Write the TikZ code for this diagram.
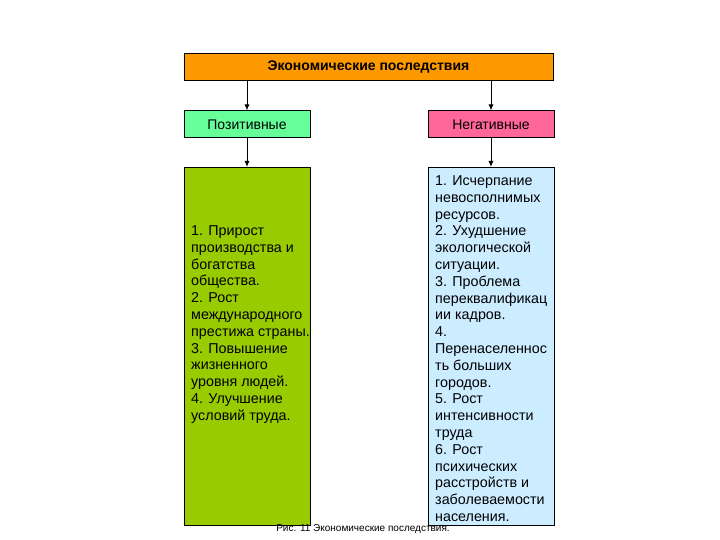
\documentclass[tikz,border=0pt]{standalone}
\usepackage{fontspec}
\setmainfont{Liberation Sans}
\usetikzlibrary{arrows.meta}
\definecolor{headorange}{HTML}{FF9900}
\definecolor{posgreen}{HTML}{66FF99}
\definecolor{negpink}{HTML}{FF6699}
\definecolor{listgreen}{HTML}{99CC00}
\definecolor{listblue}{HTML}{CCECFF}
\tikzset{
  box/.style={draw=black, line width=1pt, minimum width=126pt, minimum height=27pt, inner sep=0pt, font=\fontsize{14}{16.8}\selectfont},
  listbox/.style={draw=black, line width=1pt, minimum width=126pt, minimum height=358pt, inner sep=0pt},
  listtext/.style={anchor=north west, inner sep=0pt, align=left, font=\fontsize{14.3}{16.8}\selectfont},
  arr/.style={line width=1pt, -{Latex[length=6pt,width=5pt]}}
}
\begin{document}
\begin{tikzpicture}[x=1pt, y=-1pt]
\useasboundingbox (0,0) rectangle (720,540);
\node[box, fill=headorange, minimum width=369pt, font=\fontsize{14}{16}\selectfont\bfseries] (econ) at (368.5,67.5) {Экономические последствия};
\node[box, fill=posgreen] (pos) at (247,124.5) {Позитивные};
\node[box, fill=negpink] (neg) at (491,124.5) {Негативные};
\node[listbox, fill=listgreen] (posList) at (247,346.5) {};
\node[listbox, fill=listblue] (negList) at (491,346.5) {};
\draw[arr] (pos.north |- econ.south) -- (pos.north);
\draw[arr] (neg.north |- econ.south) -- (neg.north);
\draw[arr] (pos.south) -- (posList.north);
\draw[arr] (neg.south) -- (negList.north);
\node[listtext] (posText) at (191,225.5) {1. Прирост\\производства и\\богатства\\общества.\\2. Рост\\международного\\престижа страны.\\3. Повышение\\жизненного\\уровня людей.\\4. Улучшение\\условий труда.};
\node[listtext] (negText) at (435,175.5) {1. Исчерпание\\невосполнимых\\ресурсов.\\2. Ухудшение\\экологической\\ситуации.\\3. Проблема\\переквалификац\\ии кадров.\\4.\\Перенаселеннос\\ть больших\\городов.\\5. Рост\\интенсивности\\труда\\6. Рост\\психических\\расстройств и\\заболеваемости\\населения.};
\node[font=\fontsize{10}{12}\selectfont] (caption) at (363,529) {Рис. 11 Экономические последствия.};
\end{tikzpicture}
\end{document}
